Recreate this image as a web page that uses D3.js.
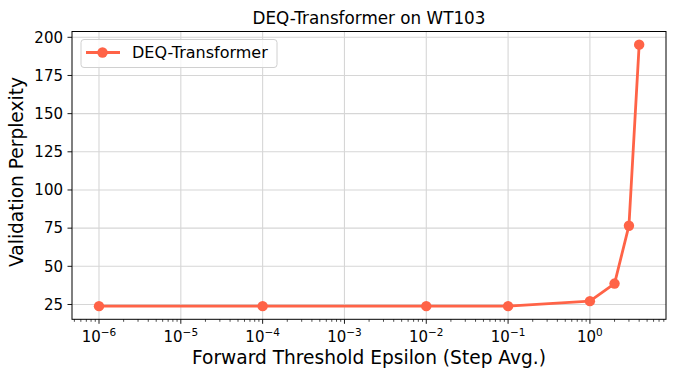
<!DOCTYPE html>
<html>
<head>
<meta charset="utf-8">
<script src="https://cdn.jsdelivr.net/npm/d3@7"></script>
<style>
  body { margin: 0; background: #fff; }
  text { font-family: "DejaVu Sans", sans-serif; fill: #000; }
</style>
</head>
<body>
<div id="chart"></div>
<script>
// data
const epsilons = [1e-6, 1e-4, 1e-2, 1e-1, 1, 2, 3, 4];
const perplexity = [23.9, 23.9, 23.9, 23.9, 27.2, 38.7, 76.6, 195.2];
const seriesName = "DEQ-Transformer";
const yTicks = [25, 50, 75, 100, 125, 150, 175, 200];
const xTickExps = [-6, -5, -4, -3, -2, -1, 0];

const W = 676, H = 378;
const plotL = 72, plotR = 666, plotT = 31.5, plotB = 319.3;
const color = "#ff6347";

const svg = d3.select("#chart").append("svg")
  .attr("width", W).attr("height", H);

const x = d3.scaleLog().domain([Math.pow(10, -6.33), Math.pow(10, 0.93)]).range([plotL, plotR]);
const y = d3.scaleLinear().domain([15.3, 203.8]).range([plotB, plotT]);

// grid
const grid = svg.append("g");
xTickExps.forEach(e => {
  grid.append("line")
    .attr("x1", x(Math.pow(10, e))).attr("x2", x(Math.pow(10, e)))
    .attr("y1", plotT).attr("y2", plotB)
    .attr("stroke", "#d6d6d6").attr("stroke-width", 1.1);
});
yTicks.forEach(v => {
  grid.append("line")
    .attr("x1", plotL).attr("x2", plotR)
    .attr("y1", y(v)).attr("y2", y(v))
    .attr("stroke", "#d6d6d6").attr("stroke-width", 1.1);
});

// x axis with minor ticks
const minor = [];
for (let e = -7; e <= 0; e++) {
  for (let m = 2; m <= 9; m++) {
    const v = m * Math.pow(10, e);
    if (v >= x.domain()[0] && v <= x.domain()[1]) minor.push(v);
  }
}
const xAxis = svg.append("g").attr("transform", `translate(0,${plotB})`);
xAxis.selectAll("line.minor").data(minor).enter().append("line")
  .attr("x1", d => x(d)).attr("x2", d => x(d))
  .attr("y1", 0).attr("y2", 2.5)
  .attr("stroke", "#000").attr("stroke-width", 0.7);
xAxis.selectAll("line.major").data(xTickExps).enter().append("line")
  .attr("x1", d => x(Math.pow(10, d))).attr("x2", d => x(Math.pow(10, d)))
  .attr("y1", 0).attr("y2", 4.5)
  .attr("stroke", "#000").attr("stroke-width", 0.9);
const xl = xAxis.selectAll("text").data(xTickExps).enter().append("text")
  .attr("x", d => x(Math.pow(10, d)))
  .attr("y", 23)
  .attr("text-anchor", "middle")
  .style("font-size", "15px");
xl.append("tspan").text("10");
xl.append("tspan").attr("dy", -6).style("font-size", "10.5px")
  .text(d => d < 0 ? "\u2212" + (-d) : String(d));

// y axis
const yAxis = svg.append("g").attr("transform", `translate(${plotL},0)`);
yAxis.selectAll("line").data(yTicks).enter().append("line")
  .attr("x1", -4.5).attr("x2", 0)
  .attr("y1", d => y(d)).attr("y2", d => y(d))
  .attr("stroke", "#000").attr("stroke-width", 0.9);
yAxis.selectAll("text").data(yTicks).enter().append("text")
  .attr("x", -9).attr("y", d => y(d))
  .attr("dy", "0.35em")
  .attr("text-anchor", "end")
  .style("font-size", "15px")
  .text(d => d);

// frame
svg.append("rect")
  .attr("x", plotL).attr("y", plotT)
  .attr("width", plotR - plotL).attr("height", plotB - plotT)
  .attr("fill", "none").attr("stroke", "#000").attr("stroke-width", 1);

// series
const pts = epsilons.map((e, i) => [e, perplexity[i]]);
const line = d3.line().x(d => x(d[0])).y(d => y(d[1]));
svg.append("path")
  .attr("d", line(pts))
  .attr("fill", "none")
  .attr("stroke", color)
  .attr("stroke-width", 2.8)
  .attr("stroke-linejoin", "round");
svg.selectAll("circle.pt").data(pts).enter().append("circle")
  .attr("class", "pt")
  .attr("cx", d => x(d[0])).attr("cy", d => y(d[1]))
  .attr("r", 5.2).attr("fill", color);

// legend
const lg = svg.append("g");
lg.append("rect")
  .attr("x", 81).attr("y", 39.5).attr("width", 196).attr("height", 28)
  .attr("rx", 3)
  .attr("fill", "#fff").attr("fill-opacity", 0.8)
  .attr("stroke", "#d0d0d0").attr("stroke-width", 1);
lg.append("line")
  .attr("x1", 86).attr("x2", 120).attr("y1", 52.5).attr("y2", 52.5)
  .attr("stroke", color).attr("stroke-width", 2.8);
lg.append("circle").attr("cx", 102.5).attr("cy", 52.5).attr("r", 5.2).attr("fill", color);
lg.append("text")
  .attr("x", 132).attr("y", 58)
  .style("font-size", "16px")
  .text(seriesName);

// title and labels
svg.append("text")
  .attr("x", (plotL + plotR) / 2).attr("y", 24)
  .attr("text-anchor", "middle")
  .style("font-size", "16.8px")
  .text("DEQ-Transformer on WT103");
svg.append("text")
  .attr("x", (plotL + plotR) / 2).attr("y", 364)
  .attr("text-anchor", "middle")
  .style("font-size", "18.6px")
  .text("Forward Threshold Epsilon (Step Avg.)");
svg.append("text")
  .attr("transform", `translate(23,172) rotate(-90)`)
  .attr("text-anchor", "middle")
  .style("font-size", "18.6px")
  .text("Validation Perplexity");
</script>
</body>
</html>
